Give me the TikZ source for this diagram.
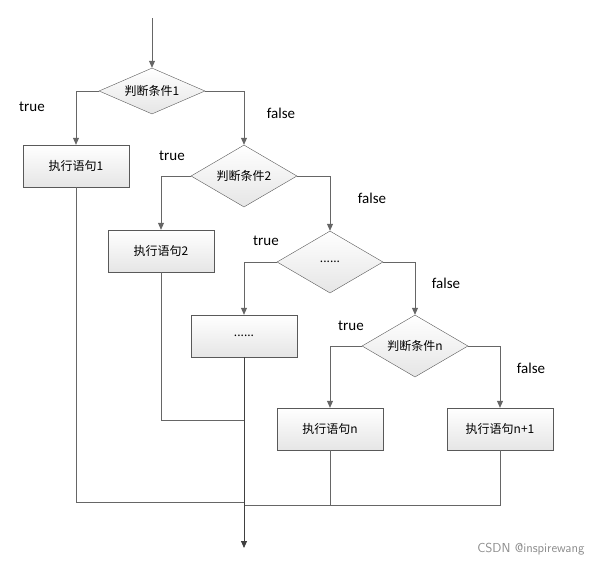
\documentclass[tikz,border=0pt]{standalone}
\usepackage{fontspec}
\setmainfont{Carlito}
\newfontfamily\cjk{Noto Sans CJK SC}
\usetikzlibrary{shapes.geometric,arrows.meta}
\begin{document}
\begin{tikzpicture}[x=1pt,y=-1pt,
  box/.style={draw=black!65,top color=white,bottom color=black!10,minimum width=106pt,minimum height=42pt,inner sep=0pt,font=\cjk\fontsize{12}{14}\selectfont},
  dia/.style={draw=black!65,top color=white,bottom color=black!10,diamond,aspect=1.7,minimum width=106pt,minimum height=62pt,inner sep=0pt,font=\cjk\fontsize{12}{14}\selectfont},
  ln/.style={draw=black!60,line width=0.8pt},
  ar/.style={ln,-{Triangle[length=7pt,width=6pt]}},
  lab/.style={font=\fontsize{15}{17}\selectfont}]
\useasboundingbox (0,0) rectangle (602,568);
\node[dia,minimum height=46pt] (d1) at (152,91) {判断条件1};
\node[dia] (d2) at (244,176) {判断条件2};
\node[dia] (d3) at (330,262) {......};
\node[dia] (d4) at (415,346) {判断条件n};
\node[box] (r1) at (76,166) {执行语句1};
\node[box] (r2) at (161,251) {执行语句2};
\node[box] (r3) at (244,336) {......};
\node[box] (rn) at (330,429) {执行语句n};
\node[box] (rn1) at (500,429) {执行语句n+1};
\coordinate (top) at (152,18);
\coordinate (bot) at (244,548);
\draw[ar] (top) -- (d1.north);
\draw[ar] (d1.west) -| (r1.north);
\draw[ar] (d1.east) -| (d2.north);
\draw[ar] (d2.west) -| (r2.north);
\draw[ar] (d2.east) -| (d3.north);
\draw[ar] (d3.west) -| (r3.north);
\draw[ar] (d3.east) -| (d4.north);
\draw[ar] (d4.west) -| (rn.north);
\draw[ar] (d4.east) -| (rn1.north);
\coordinate (m1) at (244,420);
\coordinate (m2) at (244,502);
\coordinate (m3) at (244,505);
\draw[ln] (r2.south) |- (m1);
\draw[ln] (r1.south) |- (m2);
\draw[ln] (rn.south) |- (m3);
\draw[ln] (rn1.south) |- (m3);
\draw[ar,black!75] (r3.south) -- (bot);
\node[lab] (t1) at (32,107) {true};
\node[lab] (f1) at (281,113) {false};
\node[lab] (t2) at (172,156) {true};
\node[lab] (f2) at (372,198) {false};
\node[lab] (t3) at (266,241) {true};
\node[lab] (f3) at (446,283) {false};
\node[lab] (t4) at (351,326) {true};
\node[lab] (f4) at (531,368) {false};
\node[text=black!45,font=\sffamily\fontsize{13}{15}\selectfont,anchor=east] (wm) at (588,549) {CSDN @inspirewang};
\end{tikzpicture}
\end{document}
